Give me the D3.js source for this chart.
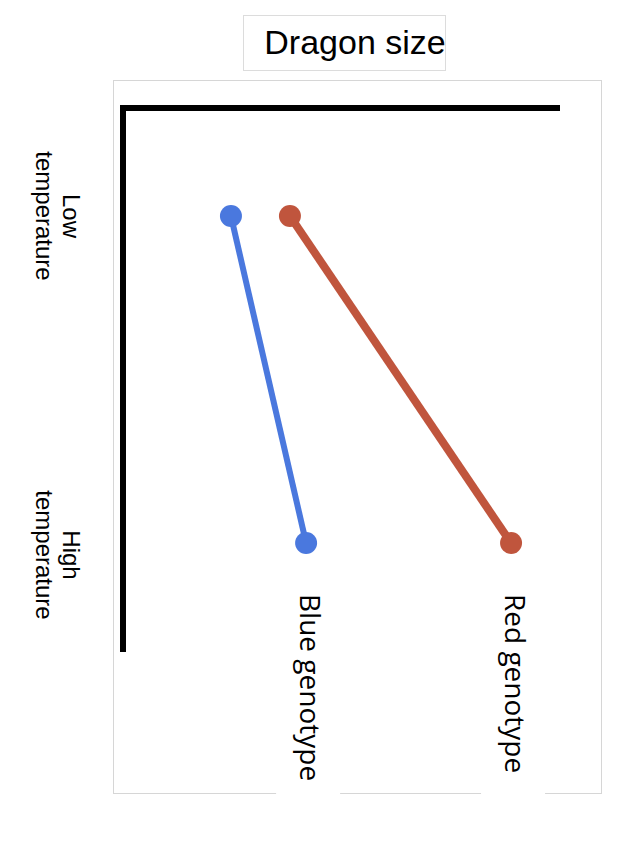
<!DOCTYPE html>
<html><head><meta charset="utf-8">
<script src="https://cdn.jsdelivr.net/npm/d3@7"></script>
<style>body{margin:0;background:#fff}</style>
</head><body>
<script>
// chart values
var temperatures = ["Low", "High"];
var tempLabels = [["Low", "temperature"], ["High", "temperature"]];
var genotypes = ["Blue genotype", "Red genotype"];
var genotypeColors = ["#4a78de", "#c0553d"];
var blueSize = [24.7, 41.9];
var redSize = [38.2, 88.8];
var series = [blueSize, redSize];

var svg = d3.select("body").append("svg")
	.attr("width", 622)
	.attr("height", 848);

// frame and title box
svg.append("rect").attr("x", 113.5).attr("y", 80.5).attr("width", 488).attr("height", 713)
	.attr("fill", "none").attr("stroke", "#d6d6d6");
svg.append("rect").attr("x", 243.5).attr("y", 15.5).attr("width", 202).attr("height", 55)
	.attr("fill", "#fff").attr("stroke", "#dcdcdc");
svg.append("text").attr("x", 355).attr("y", 54).attr("text-anchor", "middle")
	.style("font-family", "Liberation Sans, Arial").style("font-size", "34px").text("Dragon size");

var x = d3.scaleLinear().domain([0, 100]).range([123, 560]);
var y = d3.scalePoint().domain(temperatures).range([216, 543]);

// axes (thick black L)
svg.append("path")
	.attr("d", "M" + x(0) + "," + 652 + "V108H" + x(100))
	.attr("fill", "none").attr("stroke", "#000").attr("stroke-width", 6);

// temperature labels, rotated
tempLabels.forEach(function(lines, i){
	var cy = y(temperatures[i]) + (i == 0 ? 0 : 12);
	var t = svg.append("text")
		.attr("transform", "translate(56," + cy + ") rotate(90)")
		.attr("text-anchor", "middle")
		.style("font-family", "Liberation Sans, Arial").style("font-size", "24px");
	lines.forEach(function(l, j){
		t.append("tspan").attr("x", 0).attr("dy", j == 0 ? "-0.3em" : "1.15em").text(l);
	});
});

// lines and points
var line = d3.line().x(function(d){return x(d);}).y(function(d,i){return y(temperatures[i]);});
series.forEach(function(s, k){
	svg.append("path").attr("d", line(s)).attr("fill", "none")
		.attr("stroke", genotypeColors[k]).attr("stroke-width", k == 0 ? 6 : 8);
	svg.selectAll(null).data(s).enter().append("circle")
		.attr("cx", function(d){return x(d);})
		.attr("cy", function(d,i){return y(temperatures[i]);})
		.attr("r", 11).attr("fill", genotypeColors[k]);
});

// genotype labels with white boxes over the frame
series.forEach(function(s, k){
	var cx = x(s[1]);
	svg.append("rect").attr("x", cx - 30).attr("y", 585).attr("width", 64).attr("height", 215).attr("fill", "#fff");
	svg.append("text")
		.attr("transform", "translate(" + (cx + 4) + ",594) rotate(90)")
		.attr("dy", "0.35em")
		.style("font-family", "Open Sans, Liberation Sans").style("font-size", "28px")
		.text(genotypes[k]);
});
</script>
</body></html>
